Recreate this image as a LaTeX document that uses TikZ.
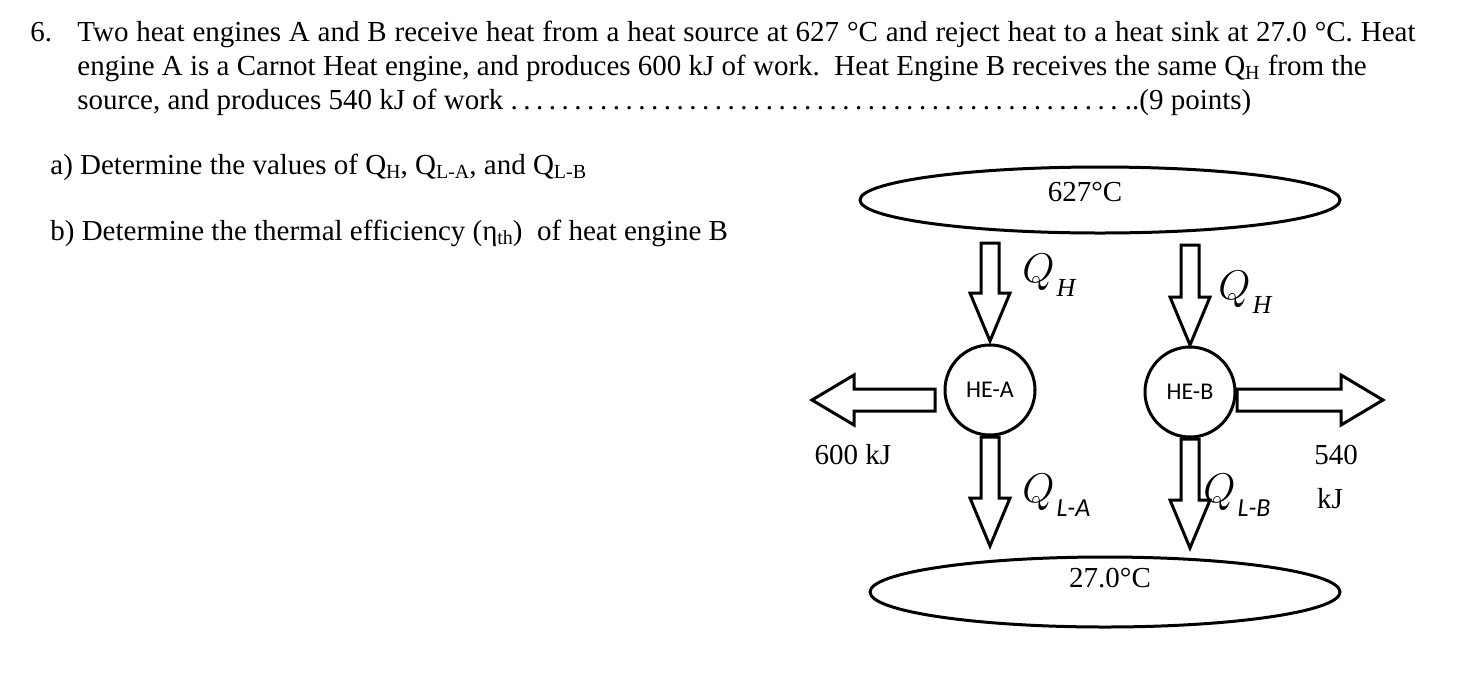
\documentclass[tikz,border=0pt]{standalone}
\usepackage{fontspec}
\setmainfont{Liberation Serif}
\setsansfont{Carlito}
\usetikzlibrary{shapes.geometric}
\tikzset{
  txt/.style={anchor=base west,inner sep=0pt,font=\fontsize{14.5}{17}\selectfont},
  res/.style={draw,line width=1.5pt,ellipse,minimum width=240pt,minimum height=33pt},
  eng/.style={draw,line width=1.5pt,circle,minimum size=45pt,inner sep=0pt,font=\sffamily\fontsize{12}{14}\selectfont},
  barr/.style={draw,line width=1.5pt,line join=miter},
  ql/.style={font=\fontsize{13}{15}\selectfont,inner sep=0pt}
}
% vertical block arrow: x, ytop, ybottom
\newcommand{\varr}[3]{\draw[barr] (#1-9,#2) -- (#1+9,#2) -- (#1+9,#3-48) -- (#1+20,#3-48) -- (#1,#3) -- (#1-20,#3-48) -- (#1-9,#3-48) -- cycle;}
% horizontal block arrow: y, xstart, xtip, head length sign
\newcommand{\harr}[4]{\draw[barr] (#2,#1-11) -- (#3-#4,#1-11) -- (#3-#4,#1-25) -- (#3,#1) -- (#3-#4,#1+25) -- (#3-#4,#1+11) -- (#2,#1+11) -- cycle;}
\newcommand{\Qlab}[1]{{\fontsize{22}{24}\selectfont$Q$}\kern1pt\raisebox{-7pt}{#1}}
\begin{document}
\begin{tikzpicture}[x=0.5pt,y=-0.5pt]
\useasboundingbox (0,0) rectangle (1462,676);
\node[txt] (n6) at (30,41) {6.};
\node[txt] (l1) at (77,41) {\makebox[669pt][s]{Two heat engines A and B receive heat from a heat source at 627 °C and reject heat to a heat sink at 27.0 °C. Heat}};
\node[txt] (l2) at (77,75) {engine A is a Carnot Heat engine, and produces 600 kJ of work.\ \ Heat Engine B receives the same Q\textsubscript{\fontsize{10}{12}\selectfont H} from the};
\node[txt] (l3) at (77,109) {\makebox[587pt][l]{source, and produces 540 kJ of work\dotfill..(9 points)}};
\node[txt] (qa) at (50,174) {a) Determine the values of Q\raisebox{-2pt}{\fontsize{10}{12}\selectfont H}, Q\raisebox{-2pt}{\fontsize{10}{12}\selectfont L-A}, and Q\raisebox{-2pt}{\fontsize{10}{12}\selectfont L-B}};
\node[txt] (qb) at (50,240) {b) Determine the thermal efficiency (η\raisebox{-2pt}{\fontsize{10}{12}\selectfont th})\ \ of heat engine B};

\node[res] (hot) at (1100,200) {};
\node[txt,anchor=center] (th) at (1085,192) {627°C};
\node[res,minimum width=235pt,minimum height=35pt] (cold) at (1105,592) {};
\node[txt,anchor=center] (tc) at (1110,578) {27.0°C};

\node[eng] (hea) at (990,390) {HE-A};
\node[eng] (heb) at (1190,392) {HE-B};

\varr{990}{243}{341}
\varr{990}{437}{546}
\varr{1190}{245}{345}
\varr{1190}{439}{548}
\harr{400}{935}{812}{-42}
\harr{400}{1237}{1383}{42}

\node[ql,anchor=west] (qh1) at (1022,275) {\Qlab{\textit{H}}};
\node[ql,anchor=west] (qh2) at (1218,292) {\Qlab{\textit{H}}};
\node[ql,anchor=west] (qla) at (1022,495) {\Qlab{\sffamily\itshape L-A}};
\node[ql,anchor=west] (qlb) at (1203,495) {\Qlab{\sffamily\itshape L-B}};
\node[txt,anchor=center] (w1) at (853,455) {600 kJ};
\node[txt,anchor=center] (w2) at (1336,455) {540};
\node[txt,anchor=center] (w3) at (1330,499) {kJ};
\end{tikzpicture}
\end{document}
